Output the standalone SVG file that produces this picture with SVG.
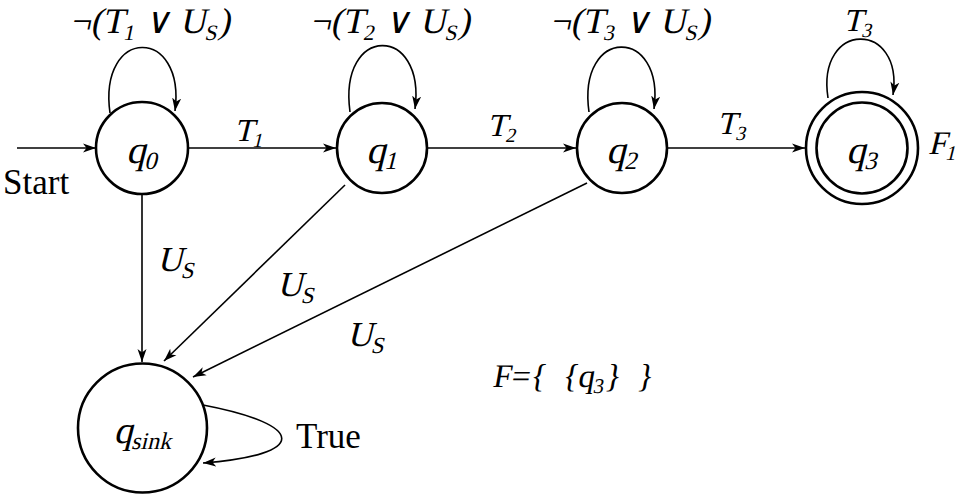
<svg xmlns="http://www.w3.org/2000/svg" width="968" height="497" viewBox="0 0 968 497">
<style>
.node{fill:#fff;stroke:#000;stroke-width:2.6}
.edge{fill:none;stroke:#000;stroke-width:1.6}
.t{font-family:"Liberation Serif","DejaVu Serif",serif;fill:#000;font-style:normal}
</style>
<defs>
<marker id="ah" markerUnits="userSpaceOnUse" markerWidth="14" markerHeight="10" refX="13" refY="5" orient="auto">
<path d="M0,0.5 L13,5 L0,9.5 L3.5,5 Z" fill="#000"/>
</marker>
</defs>
<rect width="968" height="497" fill="#fff"/>
<g id="connectors">
<path class="edge" d="M17,148 L96,148" marker-end="url(#ah)"/>
<path class="edge" d="M188,148 L336,148" marker-end="url(#ah)" stroke-width="2"/>
<path class="edge" d="M428,148 L576,148" marker-end="url(#ah)"/>
<path class="edge" d="M668,148 L805,148" marker-end="url(#ah)"/>
<path class="edge" d="M142,195 L142,362" marker-end="url(#ah)"/>
<path class="edge" d="M345,185 L164,361" marker-end="url(#ah)"/>
<path class="edge" d="M587,183 L193,377" marker-end="url(#ah)"/>
<path class="edge" d="M110,113 C98,26 186,26 175,111" marker-end="url(#ah)"/>
<path class="edge" d="M350,112 C338,24 426,24 415,109" marker-end="url(#ah)"/>
<path class="edge" d="M589,112 C577,26 665,26 654,109" marker-end="url(#ah)"/>
<path class="edge" d="M828,98 C816,20 904,20 893,95" marker-end="url(#ah)"/>
<path class="edge" d="M203,405 C308,425 308,455 203,463" marker-end="url(#ah)"/>
<g transform="translate(234,141) skewX(-14)"><text class="t" font-size="32">T<tspan font-size="20" dy="6">1</tspan></text></g>
<g transform="translate(487,136) skewX(-14)"><text class="t" font-size="32">T<tspan font-size="20" dy="6">2</tspan></text></g>
<g transform="translate(717,134) skewX(-14)"><text class="t" font-size="32">T<tspan font-size="20" dy="6">3</tspan></text></g>
<g transform="translate(157,271) skewX(-14)"><text class="t" font-size="35">U<tspan font-size="23" dy="7">S</tspan></text></g>
<g transform="translate(277,296) skewX(-14)"><text class="t" font-size="35">U<tspan font-size="23" dy="7">S</tspan></text></g>
<g transform="translate(347,346) skewX(-14)"><text class="t" font-size="35">U<tspan font-size="23" dy="7">S</tspan></text></g>
<g transform="translate(150,33) skewX(-12)"><text class="t" font-size="36" text-anchor="middle">¬(T<tspan font-size="22" dy="7">1</tspan><tspan dy="-7"> ∨ U</tspan><tspan font-size="22" dy="7">S</tspan><tspan dy="-7">)</tspan></text></g>
<g transform="translate(390,33) skewX(-12)"><text class="t" font-size="36" text-anchor="middle">¬(T<tspan font-size="22" dy="7">2</tspan><tspan dy="-7"> ∨ U</tspan><tspan font-size="22" dy="7">S</tspan><tspan dy="-7">)</tspan></text></g>
<g transform="translate(630,33) skewX(-12)"><text class="t" font-size="36" text-anchor="middle">¬(T<tspan font-size="22" dy="7">3</tspan><tspan dy="-7"> ∨ U</tspan><tspan font-size="22" dy="7">S</tspan><tspan dy="-7">)</tspan></text></g>
<g transform="translate(843,31) skewX(-14)"><text class="t" font-size="32">T<tspan font-size="20" dy="6">3</tspan></text></g>
<text class="t" x="296" y="448" font-size="35">True</text>
</g>
<g id="start">
<text class="t" x="3" y="194" font-size="35">Start</text>
</g>
<g id="q0">
<circle class="node" cx="142" cy="148" r="46"/>
<g transform="translate(142,163) skewX(-14)"><text class="t" font-size="39" text-anchor="middle">q<tspan font-size="25" dy="6">0</tspan></text></g>
</g>
<g id="q1">
<circle class="node" cx="382" cy="148" r="45"/>
<g transform="translate(382,163) skewX(-14)"><text class="t" font-size="39" text-anchor="middle">q<tspan font-size="25" dy="6">1</tspan></text></g>
</g>
<g id="q2">
<circle class="node" cx="622" cy="148" r="45"/>
<g transform="translate(622,163) skewX(-14)"><text class="t" font-size="39" text-anchor="middle">q<tspan font-size="25" dy="6">2</tspan></text></g>
</g>
<g id="q3">
<circle class="node" cx="862" cy="148" r="56"/>
<circle class="node" cx="862" cy="148" r="45.5"/>
<g transform="translate(862,163) skewX(-14)"><text class="t" font-size="39" text-anchor="middle">q<tspan font-size="25" dy="6">3</tspan></text></g>
<g transform="translate(928,154) skewX(-14)"><text class="t" font-size="33">F<tspan font-size="21" dy="6">1</tspan></text></g>
</g>
<g id="qsink">
<circle class="node" cx="142.5" cy="428" r="64.5"/>
<g transform="translate(143,443) skewX(-14)"><text class="t" font-size="38" text-anchor="middle">q<tspan font-size="24" dy="6">sink</tspan></text></g>
</g>
<g id="accept">
<g transform="translate(492,387) skewX(-10)"><text class="t" font-size="33" xml:space="preserve">F={  {q<tspan font-size="21" dy="6">3</tspan><tspan dy="-6">}  }</tspan></text></g>
</g>
</svg>
